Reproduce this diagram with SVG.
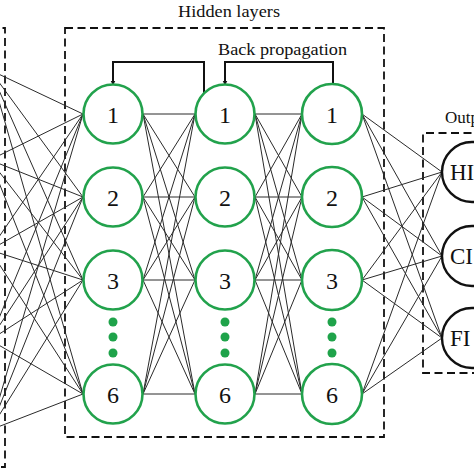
<svg xmlns="http://www.w3.org/2000/svg" width="474" height="474" viewBox="0 0 474 474">
<style>
.box{fill:none;stroke:#111;stroke-width:1.8;stroke-dasharray:8 4.5}
.hn{fill:#fff;stroke:#22a24c;stroke-width:2.6}
.on{fill:#fff;stroke:#111;stroke-width:2.4}
.dot{fill:#1fa34a}
.lbl{font-family:"Liberation Serif",serif;font-size:24px;fill:#111;text-anchor:middle}
.olbl{font-family:"Liberation Serif",serif;font-size:23px;fill:#111}
.ttl{font-family:"Liberation Serif",serif;font-size:17px;fill:#111}
.c{stroke:#2a2a2a;stroke-width:1;fill:none}
.bp{stroke:#111;stroke-width:2;fill:none}
</style>
<defs>
<marker id="ah" viewBox="0 0 10 10" refX="9" refY="5" markerWidth="5" markerHeight="6" orient="auto" markerUnits="userSpaceOnUse">
<path d="M0,0 L10,5 L0,10 z" fill="#111"/>
</marker>
</defs>
<rect width="474" height="474" fill="#fff"/>
<g id="boxes">
<path class="box" d="M-10,28 H5 V467 H-10"/>
<rect class="box" x="65" y="28" width="319" height="409"/>
<path class="box" d="M484,133 H423 V373 H484"/>
</g>
<g id="texts">
<text class="ttl" x="178" y="17" textLength="102" lengthAdjust="spacingAndGlyphs">Hidden layers</text>
<text class="ttl" x="218" y="55" textLength="129" lengthAdjust="spacingAndGlyphs">Back propagation</text>
<text class="ttl" x="445" y="123">Outp</text>
</g>
<g id="connectors">
<path class="c" d="M-10,70 L83,114 M-10,70 L83,197 M-10,70 L83,280 M-10,70 L83,394"/>
<path class="c" d="M-10,160 L83,114 M-10,160 L83,197 M-10,160 L83,280 M-10,160 L83,394"/>
<path class="c" d="M-10,250 L83,114 M-10,250 L83,197 M-10,250 L83,280 M-10,250 L83,394"/>
<path class="c" d="M-10,340 L83,114 M-10,340 L83,197 M-10,340 L83,280 M-10,340 L83,394"/>
<path class="c" d="M-10,430 L83,114 M-10,430 L83,197 M-10,430 L83,280 M-10,430 L83,394"/>
<path class="c" d="M143,114 L195,114 M143,114 L195,197 M143,114 L195,280 M143,114 L195,394"/>
<path class="c" d="M143,197 L195,114 M143,197 L195,197 M143,197 L195,280 M143,197 L195,394"/>
<path class="c" d="M143,280 L195,114 M143,280 L195,197 M143,280 L195,280 M143,280 L195,394"/>
<path class="c" d="M143,394 L195,114 M143,394 L195,197 M143,394 L195,280 M143,394 L195,394"/>
<path class="c" d="M255,114 L302,114 M255,114 L302,197 M255,114 L302,280 M255,114 L302,394"/>
<path class="c" d="M255,197 L302,114 M255,197 L302,197 M255,197 L302,280 M255,197 L302,394"/>
<path class="c" d="M255,280 L302,114 M255,280 L302,197 M255,280 L302,280 M255,280 L302,394"/>
<path class="c" d="M255,394 L302,114 M255,394 L302,197 M255,394 L302,280 M255,394 L302,394"/>
<path class="c" d="M362,114 L442,172 M362,114 L442,256 M362,114 L442,338"/>
<path class="c" d="M362,197 L442,172 M362,197 L442,256 M362,197 L442,338"/>
<path class="c" d="M362,280 L442,172 M362,280 L442,256 M362,280 L442,338"/>
<path class="c" d="M362,394 L442,172 M362,394 L442,256 M362,394 L442,338"/>
<path class="bp" d="M204,94 V62 H113 V85" marker-end="url(#ah)"/>
<path class="bp" d="M333,85 V62 H225 V85" marker-end="url(#ah)"/>
</g>
<g id="h1-1"><circle class="hn" cx="113" cy="114" r="29.5"/><text class="lbl" x="113" y="122.5">1</text></g>
<g id="h1-2"><circle class="hn" cx="113" cy="197" r="29.5"/><text class="lbl" x="113" y="205.5">2</text></g>
<g id="h1-3"><circle class="hn" cx="113" cy="280" r="29.5"/><text class="lbl" x="113" y="288.5">3</text></g>
<g id="h1-6"><circle class="hn" cx="113" cy="394" r="29.5"/><text class="lbl" x="113" y="402.5">6</text></g>
<g id="h1-dots"><circle class="dot" cx="113" cy="322" r="4.5"/><circle class="dot" cx="113" cy="337" r="4.5"/><circle class="dot" cx="113" cy="353" r="4.5"/></g>
<g id="h2-1"><circle class="hn" cx="225" cy="114" r="29.5"/><text class="lbl" x="225" y="122.5">1</text></g>
<g id="h2-2"><circle class="hn" cx="225" cy="197" r="29.5"/><text class="lbl" x="225" y="205.5">2</text></g>
<g id="h2-3"><circle class="hn" cx="225" cy="280" r="29.5"/><text class="lbl" x="225" y="288.5">3</text></g>
<g id="h2-6"><circle class="hn" cx="225" cy="394" r="29.5"/><text class="lbl" x="225" y="402.5">6</text></g>
<g id="h2-dots"><circle class="dot" cx="225" cy="322" r="4.5"/><circle class="dot" cx="225" cy="337" r="4.5"/><circle class="dot" cx="225" cy="353" r="4.5"/></g>
<g id="h3-1"><circle class="hn" cx="332" cy="114" r="30"/><text class="lbl" x="332" y="122.5">1</text></g>
<g id="h3-2"><circle class="hn" cx="332" cy="197" r="30"/><text class="lbl" x="332" y="205.5">2</text></g>
<g id="h3-3"><circle class="hn" cx="332" cy="280" r="30"/><text class="lbl" x="332" y="288.5">3</text></g>
<g id="h3-6"><circle class="hn" cx="332" cy="394" r="30"/><text class="lbl" x="332" y="402.5">6</text></g>
<g id="h3-dots"><circle class="dot" cx="332" cy="322" r="4.5"/><circle class="dot" cx="332" cy="337" r="4.5"/><circle class="dot" cx="332" cy="353" r="4.5"/></g>
<g id="out-1"><circle class="on" cx="472" cy="172" r="30"/><text class="olbl" x="450" y="179.5">HI</text></g>
<g id="out-2"><circle class="on" cx="472" cy="256" r="30"/><text class="olbl" x="450" y="263.5">CI</text></g>
<g id="out-3"><circle class="on" cx="472" cy="338" r="30"/><text class="olbl" x="450" y="345.5">FI</text></g>
</svg>
